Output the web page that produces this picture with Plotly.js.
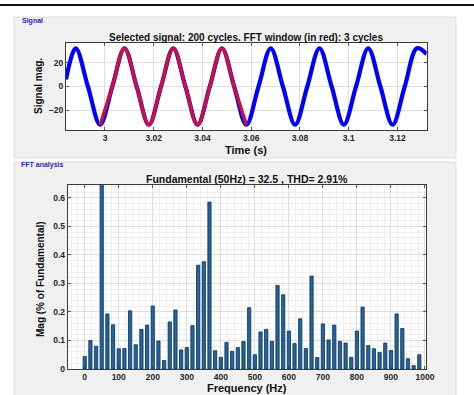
<!DOCTYPE html>
<html>
<head>
<meta charset="utf-8">
<script src="https://cdn.plot.ly/plotly-3.0.1.min.js"></script>
<style>
html,body{margin:0;padding:0;background:#fff;}
#chart{width:474px;height:395px;}
</style>
</head>
<body>
<div id="chart"></div>
<script>
// ---- Signal panel data (peaks, troughs, zero crossings) ----
const sigTime = [2.984, 2.988, 2.993, 2.998, 3.003, 3.008, 3.013, 3.018, 3.023, 3.028,
                 3.033, 3.038, 3.043, 3.048, 3.053, 3.058, 3.063, 3.068, 3.073, 3.078,
                 3.083, 3.088, 3.093, 3.098, 3.103, 3.108, 3.113, 3.118, 3.123, 3.128, 3.132];
const sigValue = [6, 32.5, 0, -32.5, 0, 32.5, 0, -32.5, 0, 32.5,
                  0, -32.5, 0, 32.5, 0, -32.5, 0, 32.5, 0, -32.5,
                  0, 32.5, 0, -32.5, 0, 32.5, 0, -32.5, 0, 32.5, 27.5];
const fftWindowStart = 2.998;
const fftWindowEnd = 3.058;
const sigXTicks = [3, 3.02, 3.04, 3.06, 3.08, 3.1, 3.12];
const sigXTickLabels = ["3", "3.02", "3.04", "3.06", "3.08", "3.1", "3.12"];
const sigYTicks = [-20, 0, 20];

// ---- FFT panel data ----
const freqHz = [0, 16.67, 33.33, 50, 66.67, 83.33, 100, 116.67, 133.33, 150,
                166.67, 183.33, 200, 216.67, 233.33, 250, 266.67, 283.33, 300, 316.67,
                333.33, 350, 366.67, 383.33, 400, 416.67, 433.33, 450, 466.67, 483.33,
                500, 516.67, 533.33, 550, 566.67, 583.33, 600, 616.67, 633.33, 650,
                666.67, 683.33, 700, 716.67, 733.33, 750, 766.67, 783.33, 800, 816.67,
                833.33, 850, 866.67, 883.33, 900, 916.67, 933.33, 950, 966.67, 983.33];
const magPct = [0.044, 0.100, 0.080, 100, 0.193, 0.155, 0.071, 0.072, 0.204, 0.085,
                0.139, 0.154, 0.221, 0.098, 0.030, 0.165, 0.207, 0.067, 0.075, 0.152,
                0.364, 0.376, 0.585, 0.064, 0.041, 0.093, 0.062, 0.075, 0.096, 0.215,
                0.050, 0.130, 0.139, 0.097, 0.293, 0.260, 0.133, 0.089, 0.176, 0.072,
                0.326, 0.040, 0.158, 0.102, 0.154, 0.097, 0.091, 0.041, 0.133, 0.217,
                0.082, 0.071, 0.058, 0.091, 0.065, 0.193, 0.142, 0.036, 0.012, 0.050];
const fftXTicks = [0, 100, 200, 300, 400, 500, 600, 700, 800, 900, 1000];
const fftYTicks = [0, 0.1, 0.2, 0.3, 0.4, 0.5, 0.6];
const fftYTickLabels = ["0", "0.1", "0.2", "0.3", "0.4", "0.5", "0.6"];

// ---- layout helpers (pixel -> paper) ----
const W = 474, H = 395;
const px = x => x / W;
const py = y => (H - y) / H;

const redT = [], redV = [];
sigTime.forEach((t, i) => { if (t >= fftWindowStart - 1e-9 && t <= fftWindowEnd + 1e-9) { redT.push(t); redV.push(sigValue[i]); } });

const fontFam = '"Liberation Sans", Arial, Helvetica, sans-serif';
const tickFont = {family: fontFam, size: 8.5, color: '#262626', weight: 'bold'};

const axCommon = {
  showline: true, linecolor: '#3a3a3a', linewidth: 1, mirror: 'allticks',
  ticks: 'inside', ticklen: 3, tickcolor: '#3a3a3a', tickwidth: 0.8,
  tickfont: tickFont, zeroline: false, showgrid: true, gridcolor: '#dedede', gridwidth: 1,
  fixedrange: true
};

const sig = {l: 66, r: 426.7, t: 43, b: 130};
const fft = {l: 67.7, r: 426, t: 185, b: 369};

const traces = [
  {x: sigTime, y: sigValue, type: 'scatter', mode: 'lines', xaxis: 'x', yaxis: 'y',
   line: {color: '#0000ff', width: 4.2, shape: 'spline', smoothing: 1.0}, hoverinfo: 'skip'},
  {x: redT, y: redV, type: 'scatter', mode: 'lines', xaxis: 'x', yaxis: 'y',
   line: {color: '#cf0f3e', width: 3.4, shape: 'spline', smoothing: 1.0}, hoverinfo: 'skip'},
  {x: freqHz, y: magPct, type: 'bar', xaxis: 'x2', yaxis: 'y2', width: 9.5,
   marker: {color: '#22659e', line: {color: '#0c2f50', width: 0.8}}, hoverinfo: 'skip'}
];

const layout = {
  width: W, height: H,
  margin: {l: 0, r: 0, t: 0, b: 0},
  paper_bgcolor: '#ffffff', plot_bgcolor: '#ffffff',
  showlegend: false,
  font: {family: fontFam, color: '#262626'},
  xaxis: Object.assign({}, axCommon, {
    domain: [px(sig.l), px(sig.r)], range: [2.984, 3.132], anchor: 'y',
    tickmode: 'array', tickvals: sigXTicks, ticktext: sigXTickLabels
  }),
  yaxis: Object.assign({}, axCommon, {
    domain: [py(sig.b), py(sig.t)], range: [-37, 37], anchor: 'x',
    tickmode: 'array', tickvals: sigYTicks
  }),
  xaxis2: Object.assign({}, axCommon, {
    domain: [px(fft.l), px(fft.r)], range: [-50, 1003], anchor: 'y2',
    tickmode: 'array', tickvals: fftXTicks,
    minor: {dtick: 20, tick0: 0, showgrid: true, gridcolor: '#efefef', gridwidth: 1, ticks: ''}
  }),
  yaxis2: Object.assign({}, axCommon, {
    domain: [py(fft.b), py(fft.t)], range: [0, 0.645], anchor: 'x2',
    tickmode: 'array', tickvals: fftYTicks, ticktext: fftYTickLabels,
    minor: {dtick: 0.02, tick0: 0, showgrid: true, gridcolor: '#efefef', gridwidth: 1, ticks: ''}
  }),
  shapes: [
    {type: 'rect', xref: 'paper', yref: 'paper', x0: px(14), x1: px(456), y0: py(158), y1: py(17),
     fillcolor: '#f0f0f0', line: {color: '#dcdcdc', width: 1}, layer: 'below'},
    {type: 'rect', xref: 'paper', yref: 'paper', x0: px(14), x1: px(456), y0: py(396), y1: py(162),
     fillcolor: '#f0f0f0', line: {color: '#dcdcdc', width: 1}, layer: 'below'},
    {type: 'rect', xref: 'paper', yref: 'paper', x0: px(sig.l), x1: px(sig.r), y0: py(sig.b), y1: py(sig.t),
     fillcolor: '#ffffff', line: {width: 0}, layer: 'below'},
    {type: 'rect', xref: 'paper', yref: 'paper', x0: px(fft.l), x1: px(fft.r), y0: py(fft.b), y1: py(fft.t),
     fillcolor: '#ffffff', line: {width: 0}, layer: 'below'},
    {type: 'line', xref: 'paper', yref: 'paper', x0: 0, x1: 1, y0: py(5), y1: py(5),
     line: {color: '#111', width: 2}}
  ],
  annotations: [
    {text: 'Signal', xref: 'paper', yref: 'paper', x: px(20), y: py(21), xanchor: 'left', yanchor: 'middle',
     showarrow: false, font: {family: fontFam, size: 7, color: '#2a2aa8', weight: 'bold'}},
    {text: 'FFT analysis', xref: 'paper', yref: 'paper', x: px(19), y: py(165), xanchor: 'left', yanchor: 'middle',
     showarrow: false, font: {family: fontFam, size: 7, color: '#2a2aa8', weight: 'bold'}},
    {text: 'Selected signal: 200 cycles. FFT window (in red): 3 cycles', xref: 'paper', yref: 'paper',
     x: px(246), y: py(37), xanchor: 'center', yanchor: 'middle', showarrow: false,
     font: {family: fontFam, size: 10, color: '#111', weight: 'bold'}},
    {text: 'Signal mag.', xref: 'paper', yref: 'paper', x: px(38), y: py(86), textangle: -90,
     xanchor: 'center', yanchor: 'middle', showarrow: false,
     font: {family: fontFam, size: 10, color: '#111', weight: 'bold'}},
    {text: 'Time (s)', xref: 'paper', yref: 'paper', x: px(246), y: py(149.5),
     xanchor: 'center', yanchor: 'middle', showarrow: false,
     font: {family: fontFam, size: 11, color: '#111', weight: 'bold'}},
    {text: 'Fundamental (50Hz) = 32.5 , THD= 2.91%', xref: 'paper', yref: 'paper',
     x: px(247), y: py(179), xanchor: 'center', yanchor: 'middle', showarrow: false,
     font: {family: fontFam, size: 10.5, color: '#111', weight: 'bold'}},
    {text: 'Mag (% of Fundamental)', xref: 'paper', yref: 'paper', x: px(40), y: py(279), textangle: -90,
     xanchor: 'center', yanchor: 'middle', showarrow: false,
     font: {family: fontFam, size: 10, color: '#111', weight: 'bold'}},
    {text: 'Frequency (Hz)', xref: 'paper', yref: 'paper', x: px(246.5), y: py(388),
     xanchor: 'center', yanchor: 'middle', showarrow: false,
     font: {family: fontFam, size: 11, color: '#111', weight: 'bold'}}
  ]
};

Plotly.newPlot('chart', traces, layout, {staticPlot: true, displayModeBar: false});
</script>
</body>
</html>
